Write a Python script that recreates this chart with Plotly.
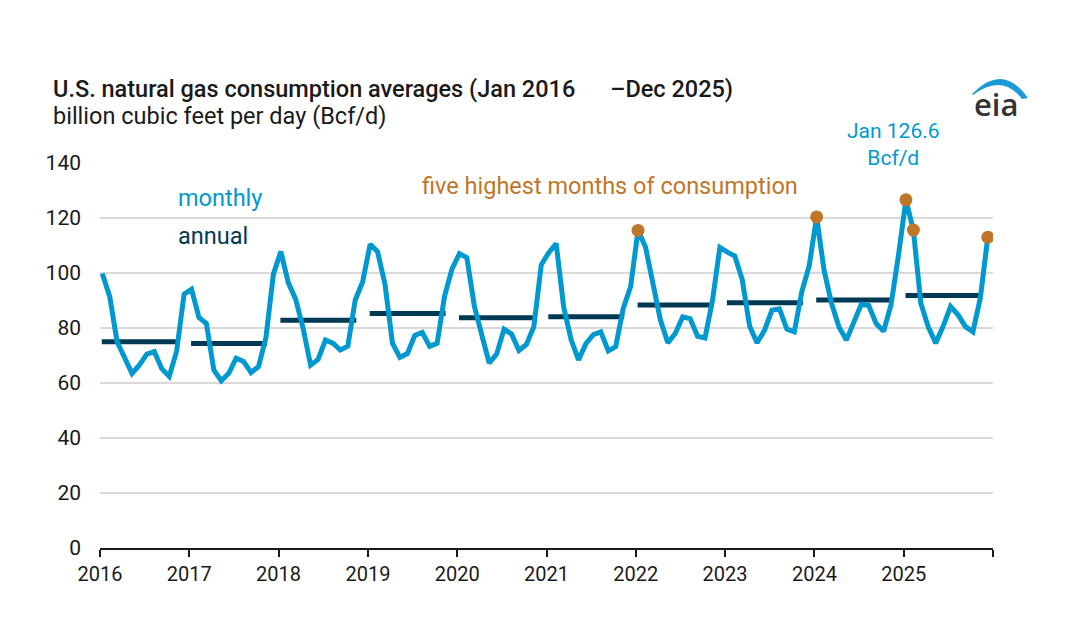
import numpy as np
import plotly.graph_objects as go

years = list(range(2016, 2026))
months = list(range(1, 13))

monthly = {
    2016: [99.8, 91.5, 75.0, 69.3, 63.5, 66.6, 70.5, 71.4, 65.2, 62.4, 71.6, 92.3],
    2017: [94.1, 83.8, 81.6, 64.7, 60.8, 63.5, 69.0, 67.8, 63.8, 66.0, 76.5, 99.6],
    2018: [107.8, 96.5, 90.4, 79.8, 66.5, 68.6, 75.6, 74.5, 72.0, 73.4, 90.2, 96.8],
    2019: [110.5, 107.7, 95.8, 74.5, 69.3, 70.7, 77.3, 78.4, 73.3, 74.4, 91.5, 101.5],
    2020: [107.0, 105.6, 88.0, 77.5, 67.2, 70.5, 79.6, 77.8, 71.8, 74.0, 80.5, 103.0],
    2021: [107.4, 110.7, 87.8, 75.8, 68.4, 74.3, 77.6, 78.6, 71.7, 73.2, 87.0, 95.0],
    2022: [115.5, 109.5, 96.0, 83.0, 74.6, 78.0, 84.0, 83.4, 77.0, 76.4, 90.0, 109.3],
    2023: [107.6, 106.2, 97.6, 80.6, 74.6, 79.2, 86.5, 87.0, 79.6, 78.6, 93.2, 102.6],
    2024: [120.4, 101.0, 89.0, 80.4, 75.6, 81.6, 88.6, 88.2, 81.6, 78.8, 88.5, 106.5],
    2025: [126.6, 115.6, 89.0, 80.4, 74.5, 80.6, 87.8, 84.8, 80.5, 78.6, 91.0, 113.0],
}

annual = [75.0, 74.4, 82.8, 85.3, 83.7, 84.1, 88.4, 89.2, 90.2, 91.8]

y_ticks = [0, 20, 40, 60, 80, 100, 120, 140]
x_tick_labels = [str(y) for y in years] + [""]

BLUE = "#0099cf"
DARK = "#003953"
ORANGE = "#bf7629"

# monthly series (points placed slightly after the first of each month)
mx, my = [], []
for yr in years:
    for m, v in zip(months, monthly[yr]):
        mx.append(yr + (m - 1 + 0.3) / 12)
        my.append(v)
mx = np.array(mx)
my = np.array(my)

# annual segments
ax_, ay_ = [], []
for yr, v in zip(years, annual):
    ax_ += [yr + 0.02, yr + 0.87, None]
    ay_ += [v, v, None]

# five highest months
top = np.argsort(my)[-5:]

fig = go.Figure()
fig.add_trace(go.Scatter(x=ax_, y=ay_, mode="lines",
                         line=dict(color=DARK, width=5), hoverinfo="skip",
                         showlegend=False))
fig.add_trace(go.Scatter(x=mx, y=my, mode="lines",
                         line=dict(color=BLUE, width=5), showlegend=False))
fig.add_trace(go.Scatter(x=mx[top], y=my[top], mode="markers",
                         marker=dict(color=ORANGE, size=13), showlegend=False))

# layout geometry (plot area in page pixels; page body has an 8px offset)
OFF = 8
L, R, T, B = 100, 993, 163, 548
W, H = 1080, 641


def px(xp):
    return (xp - L) / (R - L)


def py(yp):
    return (B - yp) / (B - T)


FONT = "Roboto"

annotations = [
    dict(text="U.S. natural gas consumption averages (Jan 2016      \u2013Dec 2025)",
         x=px(51), y=py(89), xanchor="left", yanchor="middle",
         font=dict(family=FONT, size=23.5, color="#1a1a1a", weight=500)),
    dict(text="billion cubic feet per day (Bcf/d)",
         x=px(51), y=py(116), xanchor="left", yanchor="middle",
         font=dict(family=FONT, size=23.5, color="#1a1a1a")),
    dict(text="monthly", x=px(176), y=py(198), xanchor="left", yanchor="middle",
         font=dict(family=FONT, size=23.5, color=BLUE)),
    dict(text="annual", x=px(176), y=py(236), xanchor="left", yanchor="middle",
         font=dict(family=FONT, size=23.5, color=DARK)),
    dict(text="five highest months of consumption", x=px(420), y=py(186),
         xanchor="left", yanchor="middle",
         font=dict(family=FONT, size=23.5, color=ORANGE)),
    dict(text="Jan 126.6<br>Bcf/d", x=px(893), y=py(144), xanchor="center",
         yanchor="middle", align="center",
         font=dict(family=FONT, size=21, color=BLUE)),
    dict(text="eia", x=px(996), y=py(104), xanchor="center", yanchor="middle",
         font=dict(family="Open Sans", size=31, color="#333333", weight=600)),
]
for a in annotations:
    a.update(xref="paper", yref="paper", showarrow=False)

arc = (f"M {px(972)},{py(94)} Q {px(1003)},{py(62)} {px(1028)},{py(98)} "
       f"L {px(1022)},{py(99)} Q {px(1002)},{py(73)} {px(973)},{py(95)} Z")

shapes = [
    dict(type="rect", xref="paper", yref="paper", x0=px(837), x1=px(965),
         y0=py(160), y1=py(166), fillcolor="white", line=dict(width=0),
         layer="above"),
    dict(type="path", xref="paper", yref="paper", path=arc,
         fillcolor="#1a9ad6", line=dict(width=0), layer="above"),
]

fig.update_layout(
    width=W, height=H,
    margin=dict(l=L - OFF, r=W - (R - L) - (L - OFF), t=T - OFF,
                b=H - (B - T) - (T - OFF)),
    paper_bgcolor="white", plot_bgcolor="white",
    annotations=annotations, shapes=shapes,
    font=dict(family=FONT, size=20, color="#1a1a1a"),
    xaxis=dict(range=[2016, 2026], tickvals=list(range(2016, 2027)),
               ticktext=x_tick_labels, showgrid=False, zeroline=False,
               showline=True, linecolor="#1a1a1a", linewidth=1.5,
               ticks="outside", ticklen=7, tickwidth=1.5, tickcolor="#1a1a1a",
               tickfont=dict(family=FONT, size=20, color="#1a1a1a")),
    yaxis=dict(range=[0, 140], tickvals=y_ticks, showgrid=True,
               gridcolor="#d9d9d9", gridwidth=1.5, zeroline=False,
               showline=False, ticks="", ticklabelstandoff=18,
               tickfont=dict(family=FONT, size=21, color="#1a1a1a")),
)

fig.write_html("out.html")
